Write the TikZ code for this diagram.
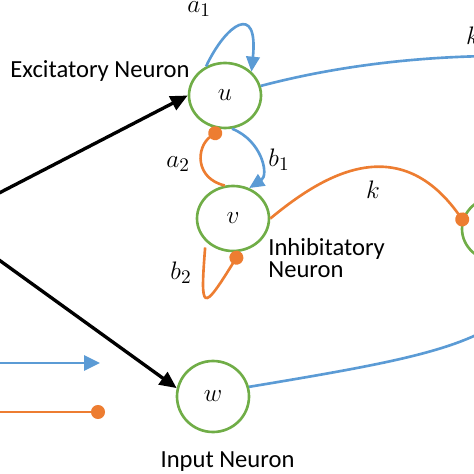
\documentclass[tikz,border=0pt]{standalone}
\usepackage{fontspec}
\setmainfont{Carlito}
\usetikzlibrary{arrows.meta,shapes.geometric}
\definecolor{neurongreen}{RGB}{112,173,71}
\definecolor{excblue}{RGB}{91,155,213}
\definecolor{inhorange}{RGB}{237,125,49}
\begin{document}
\begin{tikzpicture}[neuron/.style={draw=neurongreen,line width=1.5pt,ellipse,minimum width=1.44cm,minimum height=1.3cm,inner sep=0pt,font=\fontsize{15}{17}\selectfont},
  lbl/.style={font=\fontsize{15}{17}\selectfont,inner sep=0pt},
  txt/.style={font=\fontsize{14}{12}\selectfont,inner sep=0pt},
  drive/.style={line width=1.9pt,-{Triangle[length=0.34cm,width=0.3cm]}},
  exc/.style={excblue,line width=1.5pt},
  inh/.style={inhorange,line width=1.5pt,-{Circle[length=0.28cm]}}]
\useasboundingbox (0,0) rectangle (9.48,-9.48);
\clip (0,0) rectangle (9.48,-9.48);
\coordinate (src) at (-1.1,-4.42);
\node[neuron] (u) at (4.5,-1.91) {$u$};
\node[neuron] (v) at (4.66,-4.37) {$v$};
\node[neuron,minimum height=1.42cm] (w) at (4.26,-7.93) {$w$};
\node[neuron] (r) at (9.96,-4.58) {};
\coordinate (uout) at (9.8,-1.12);
\coordinate (wout) at (9.9,-6.5);
% input drive
\draw[drive] (src) -- (u.west);
\draw[drive] (src) -- (w.167);
% excitatory connections
\draw[exc,-{Triangle[length=0.3cm,width=0.27cm]}] (u.123) .. controls +(0.4,0.85) and +(0.14,1.4) .. (u.42);
\draw[exc,-{Triangle[length=0.3cm,width=0.27cm]}] (u.-78) .. controls +(0.6,-0.24) and +(0.4,0.26) .. (v.62);
\draw[exc] (u.15) .. controls (6.8,-1.3) and (8.4,-1.14) .. (uout);
\draw[exc] (w.15) .. controls (7.6,-7.3) and (9.0,-7.05) .. (wout);
% inhibitory connections
\draw[inh] (v.104) .. controls +(-0.6,0.14) and +(-0.5,-0.36) .. (u.-97);
\draw[inh,shorten <=0.12cm] (v.-140) .. controls +(-0.11,-1.39) and +(-0.76,-1.23) .. (v.-78);
\draw[inh,shorten >=-0.14cm] (v.east) .. controls +(0.98,0.81) and +(-1.31,1.84) .. (r.165);
% weights
\node[lbl] (la1) at (3.98,-0.18) {$a_1$};
\node[lbl] (la2) at (3.56,-3.28) {$a_2$};
\node[lbl] (lb1) at (5.58,-3.2) {$b_1$};
\node[lbl] (lb2) at (3.62,-5.46) {$b_2$};
\node[lbl] (lk1) at (7.46,-3.8) {$k$};
\node[lbl] (lk2) at (9.46,-0.72) {$k$};
% neuron names
\node[txt,anchor=base] (excname) at (2.0,-1.56) {Excitatory Neuron};
\node[txt,anchor=base west,align=left] (inhname) at (5.36,-5.54) {Inhibitatory\\Neuron};
\node[txt,anchor=base] (inpname) at (4.55,-9.34) {Input Neuron};
% legend
\coordinate (legexca) at (-0.3,-7.26);
\coordinate (legexcb) at (2.0,-7.26);
\coordinate (leginha) at (-0.3,-8.24);
\coordinate (leginhb) at (2.1,-8.24);
\draw[exc,-{Triangle[length=0.32cm,width=0.3cm]}] (legexca) -- (legexcb);
\draw[inh] (leginha) -- (leginhb);
\end{tikzpicture}
\end{document}
